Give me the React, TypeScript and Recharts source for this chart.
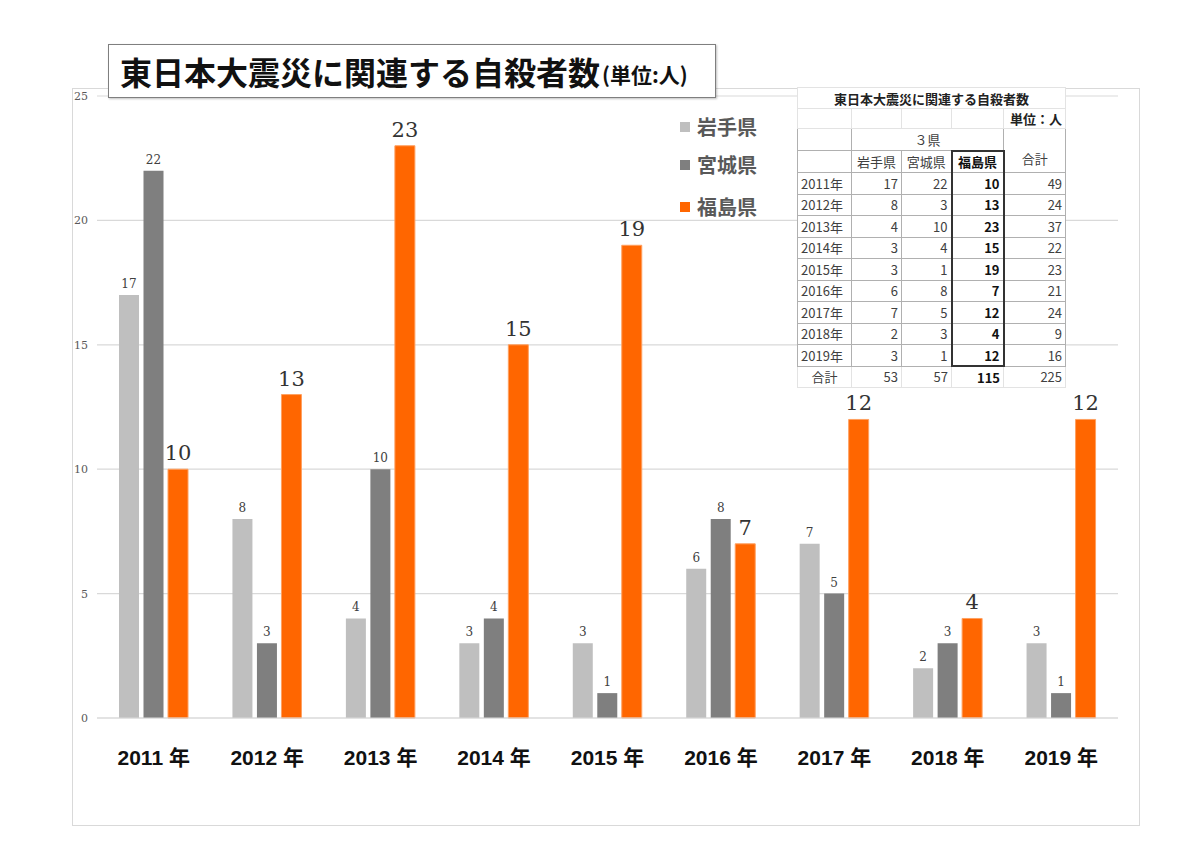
import React from "react";
import { BarChart, Bar, XAxis, YAxis, CartesianGrid, LabelList } from "recharts";

const years = ["2011", "2012", "2013", "2014", "2015", "2016", "2017", "2018", "2019"];
const iwate = [17, 8, 4, 3, 3, 6, 7, 2, 3];
const miyagi = [22, 3, 10, 4, 1, 8, 5, 3, 1];
const fukushima = [10, 13, 23, 15, 19, 7, 12, 4, 12];
const yTicks = [0, 5, 10, 15, 20, 25];
const seriesKeys = ["iwate", "miyagi", "fukushima"];
const seriesNames = ["岩手県", "宮城県", "福島県"];
const seriesColors = ["#BFBFBF", "#7F7F7F", "#FF6600"];
const titleText = "東日本大震災に関連する自殺者数";
const unitText = "(単位:人)";

const data = years.map((y, i) => ({
  year: y + " 年",
  iwate: iwate[i],
  miyagi: miyagi[i],
  fukushima: fukushima[i],
}));

const sum = (a: number[]) => a.reduce((s, v) => s + v, 0);

const SANS = "'Noto Sans CJK JP', 'Liberation Sans', sans-serif";
const SERIF = "'DejaVu Serif', 'Liberation Serif', serif";

const XTick = (props: any) => {
  const { x, y, payload } = props;
  return (
    <text
      x={x}
      y={y + 31}
      textAnchor="middle"
      dominantBaseline="central"
      fontFamily="'Liberation Sans', 'Noto Sans CJK JP', sans-serif"
      fontWeight={700}
      fontSize={21}
      fill="#111"
    >
      {payload.value}
    </text>
  );
};

const lightB = "1px solid #e3e3e3";
const midB = "1px solid #b0b0b0";
const darkB = "2px solid #333";

const cell = (extra: React.CSSProperties = {}): React.CSSProperties => ({
  padding: "0 3px",
  border: midB,
  fontFamily: SANS,
  fontSize: 13,
  color: "#404040",
  whiteSpace: "nowrap",
  overflow: "hidden",
  lineHeight: "1",
  ...extra,
});

function DataTable() {
  const colW = [54, 50, 50, 52, 62];
  return (
    <table
      style={{
        position: "absolute",
        left: 797,
        top: 87,
        width: 268,
        borderCollapse: "collapse",
        tableLayout: "fixed",
        background: "#fff",
      }}
    >
      <colgroup>
        {colW.map((w, i) => (
          <col key={i} style={{ width: w }} />
        ))}
      </colgroup>
      <tbody>
        <tr style={{ height: 21 }}>
          <td colSpan={5} style={cell({ border: lightB, textAlign: "center", fontWeight: 700, color: "#222" })}>
            {titleText}
          </td>
        </tr>
        <tr style={{ height: 20 }}>
          <td style={cell({ border: lightB })}></td>
          <td style={cell({ border: lightB })}></td>
          <td style={cell({ border: lightB })}></td>
          <td style={cell({ border: lightB })}></td>
          <td style={cell({ border: lightB, textAlign: "right", fontWeight: 700, color: "#222" })}>単位：人</td>
        </tr>
        <tr style={{ height: 22 }}>
          <td style={cell()}></td>
          <td colSpan={3} style={cell({ textAlign: "center" })}>３県</td>
          <td rowSpan={2} style={cell({ textAlign: "center", verticalAlign: "middle", paddingTop: 16 })}>合計</td>
        </tr>
        <tr style={{ height: 22 }}>
          <td style={cell()}></td>
          <td style={cell({ textAlign: "center", padding: 0 })}>{seriesNames[0]}</td>
          <td style={cell({ textAlign: "center", padding: 0 })}>{seriesNames[1]}</td>
          <td
            style={cell({
              textAlign: "center",
              padding: 0,
              fontWeight: 700,
              color: "#111",
              borderLeft: darkB,
              borderRight: darkB,
              borderTop: darkB,
            })}
          >
            {seriesNames[2]}
          </td>
        </tr>
        {years.map((y, i) => (
          <tr key={y} style={{ height: 21.5 }}>
            <td style={cell({ textAlign: "left" })}>{y}年</td>
            <td style={cell({ textAlign: "right" })}>{iwate[i]}</td>
            <td style={cell({ textAlign: "right" })}>{miyagi[i]}</td>
            <td
              style={cell({
                textAlign: "right",
                fontWeight: 700,
                color: "#111",
                borderLeft: darkB,
                borderRight: darkB,
                borderBottom: i === years.length - 1 ? darkB : midB,
              })}
            >
              {fukushima[i]}
            </td>
            <td style={cell({ textAlign: "right" })}>{iwate[i] + miyagi[i] + fukushima[i]}</td>
          </tr>
        ))}
        <tr style={{ height: 21.5 }}>
          <td style={cell({ border: lightB, textAlign: "center" })}>合計</td>
          <td style={cell({ border: lightB, textAlign: "right" })}>{sum(iwate)}</td>
          <td style={cell({ border: lightB, textAlign: "right" })}>{sum(miyagi)}</td>
          <td style={cell({ border: lightB, borderTop: darkB, textAlign: "right", fontWeight: 700, color: "#111" })}>
            {sum(fukushima)}
          </td>
          <td style={cell({ border: lightB, textAlign: "right" })}>{sum(iwate) + sum(miyagi) + sum(fukushima)}</td>
        </tr>
      </tbody>
    </table>
  );
}

function LegendBox() {
  const tops = [127, 165, 207];
  return (
    <>
      {seriesNames.map((n, i) => (
        <div
          key={n}
          style={{
            position: "absolute",
            left: 680,
            top: tops[i] - 14,
            height: 28,
            display: "flex",
            alignItems: "center",
          }}
        >
          <span
            style={{
              display: "inline-block",
              width: 10,
              height: 10,
              background: seriesColors[i],
              marginRight: 7,
            }}
          />
          <span
            style={{
              fontFamily: SANS,
              fontWeight: 700,
              fontSize: 20,
              color: "#595959",
              lineHeight: "28px",
            }}
          >
            {n}
          </span>
        </div>
      ))}
    </>
  );
}

export default function App() {
  return (
    <div
      style={{
        position: "absolute",
        left: 0,
        top: 0,
        width: 1200,
        height: 848,
        background: "#fff",
        overflow: "hidden",
      }}
    >
      {/* outer chart frame */}
      <div
        style={{
          position: "absolute",
          left: 72,
          top: 88,
          width: 1068,
          height: 738,
          border: "1px solid #d9d9d9",
          boxSizing: "border-box",
        }}
      />
      <div style={{ position: "absolute", left: 0, top: 0 }}>
        <BarChart
          width={1200}
          height={848}
          data={data}
          margin={{ top: 96, right: 82, bottom: 70, left: 72 }}
          barSize={20}
          barGap={4.5}
        >
          <CartesianGrid vertical={false} stroke="#d9d9d9" strokeWidth={1.2} />
          <YAxis
            width={25}
            domain={[0, 25]}
            ticks={yTicks}
            axisLine={false}
            tickLine={false}
            tickSize={0}
            tickMargin={9}
            interval={0}
            tick={{ fontFamily: SERIF, fontSize: 11, fill: "#595959" }}
          />
          <XAxis
            dataKey="year"
            height={60}
            axisLine={{ stroke: "#d9d9d9", strokeWidth: 1.2 }}
            tickLine={false}
            interval={0}
            tick={<XTick />}
          />
          {seriesKeys.map((k, i) => (
            <Bar
              key={k}
              dataKey={k}
              name={seriesNames[i]}
              fill={seriesColors[i]}
              stroke={i === 2 ? "#FFA060" : undefined}
              strokeWidth={i === 2 ? 1 : 0}
              isAnimationActive={false}
            >
              <LabelList
                dataKey={k}
                position="top"
                offset={i === 2 ? 9 : 7}
                fontFamily={SERIF}
                fontSize={i === 2 ? 21 : 12}
                fill={i === 2 ? "#333" : "#404040"}
              />
            </Bar>
          ))}
        </BarChart>
      </div>
      <LegendBox />
      <DataTable />
      {/* title box */}
      <div
        style={{
          position: "absolute",
          left: 108,
          top: 44,
          width: 608,
          height: 54,
          boxSizing: "border-box",
          border: "1px solid #7f7f7f",
          background: "#fff",
          boxShadow: "1px 1px 2px rgba(0,0,0,0.25)",
          display: "flex",
          alignItems: "center",
          paddingLeft: 11,
        }}
      >
        <span style={{ fontFamily: SANS, fontWeight: 700, fontSize: 32, color: "#111", lineHeight: "1" }}>
          {titleText}
        </span>
        <span
          style={{
            fontFamily: SANS,
            fontWeight: 700,
            fontSize: 21,
            color: "#111",
            lineHeight: "1",
            marginTop: 6,
            marginLeft: 2,
          }}
        >
          {unitText}
        </span>
      </div>
    </div>
  );
}
